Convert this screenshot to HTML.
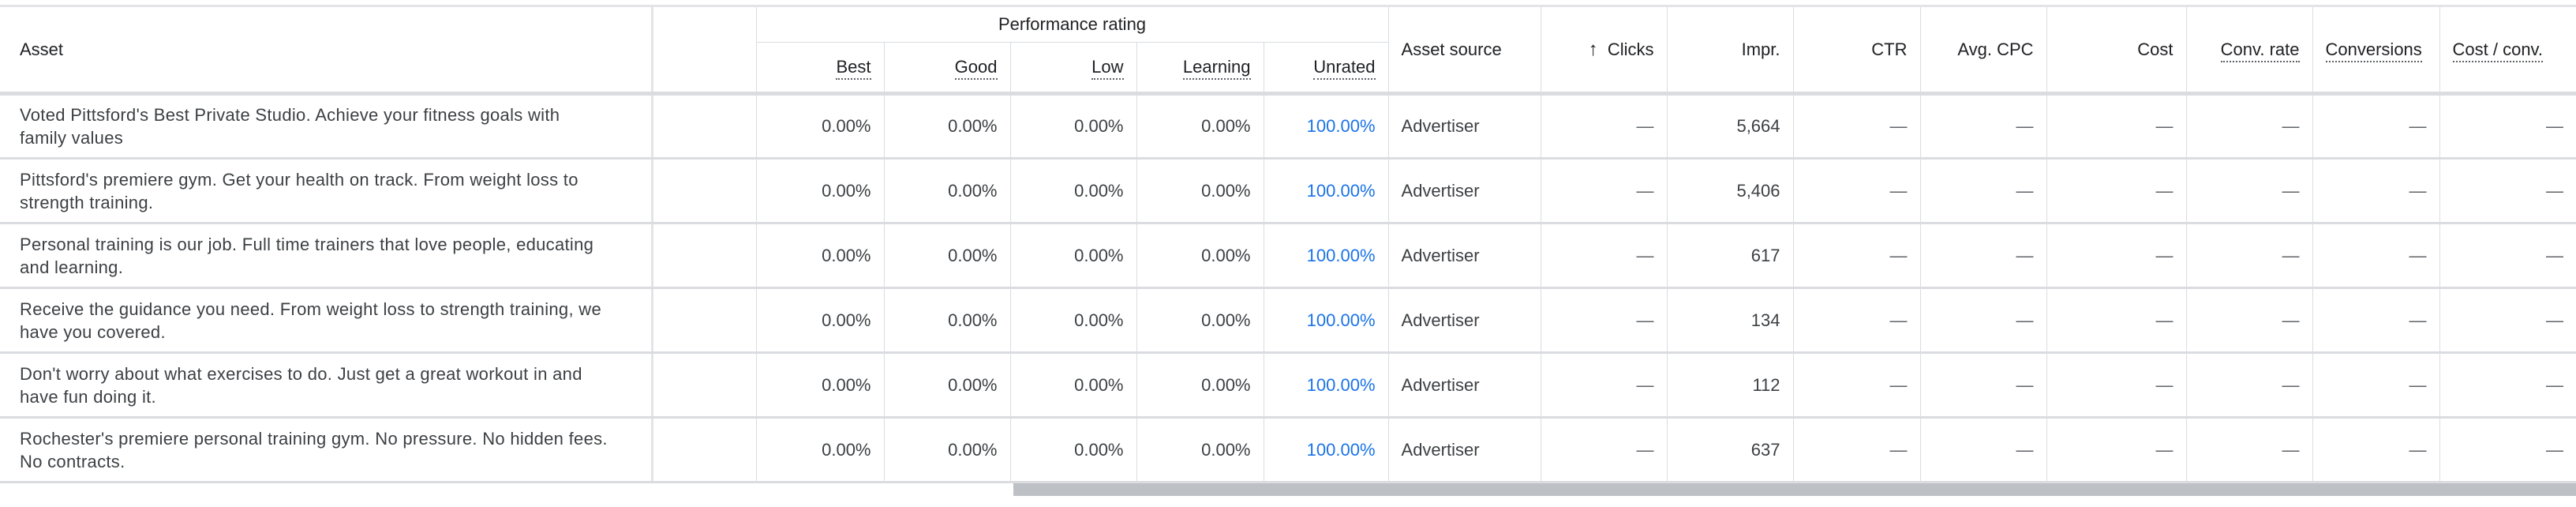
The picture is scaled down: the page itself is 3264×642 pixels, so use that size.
<!DOCTYPE html>
<html><head><meta charset="utf-8">
<style>
html,body{margin:0;padding:0;background:#fff;}
body{width:3264px;height:642px;overflow:hidden;position:relative;font-family:"Liberation Sans",Arial,sans-serif;color:#3c4043;}
table{position:absolute;left:0;top:6px;border-collapse:collapse;table-layout:fixed;width:3264px;border-top:3px solid #e3e4e7;}
td,th{padding:0 16px;font-size:22px;font-weight:normal;white-space:nowrap;overflow:hidden;border-left:1px solid #dadce0;box-sizing:border-box;}
th{color:#202124;text-align:right;}
td{text-align:right;}
tr.body td{height:82px;border-bottom:3px solid #dadce0;}
tr.body td.asset{text-align:left;line-height:29px;padding-left:25px;border-right:3px solid #e3e4e7;letter-spacing:0.3px;}
th.asset{text-align:left;padding-left:25px;border-left:none;border-right:3px solid #e3e4e7;}
tr.body td:first-child{border-left:none;}
thead tr:last-child th{border-bottom:5px solid #dadce0;}
th.asset,th.tall{border-bottom:5px solid #dadce0;}
.dot{border-bottom:2px dotted #5f6368;padding-bottom:2px;}
.blue{color:#1a73e8;}
.dash{color:#5f6368;}
.perf{text-align:center;border-bottom:1px solid #dadce0;height:46px;}
.left{text-align:left;}
#scroll{position:absolute;left:1284px;top:612px;width:1980px;height:16px;background:#bdc1c6;}
</style></head><body>
<table>
<colgroup>
<col style="width:826px"><col style="width:132px"><col style="width:162px"><col style="width:160px"><col style="width:160px"><col style="width:161px"><col style="width:158px"><col style="width:193px"><col style="width:160px"><col style="width:160px"><col style="width:161px"><col style="width:160px"><col style="width:177px"><col style="width:160px"><col style="width:161px"><col style="width:173px">
</colgroup>
<thead>
<tr>
<th class="asset" rowspan="2">Asset</th>
<th class="tall" rowspan="2"></th>
<th class="perf" colspan="5">Performance rating</th>
<th class="tall left" rowspan="2">Asset source</th>
<th class="tall" rowspan="2"><span style="font-size:24px">↑</span>&nbsp; Clicks</th>
<th class="tall" rowspan="2">Impr.</th>
<th class="tall" rowspan="2">CTR</th>
<th class="tall" rowspan="2">Avg. CPC</th>
<th class="tall" rowspan="2">Cost</th>
<th class="tall" rowspan="2"><span class="dot">Conv. rate</span></th>
<th class="tall left" rowspan="2" style="padding-right:0"><span class="dot">Conversions</span></th>
<th class="tall left" rowspan="2"><span class="dot">Cost / conv.</span></th>
</tr>
<tr style="height:65px">
<th><span class="dot">Best</span></th>
<th><span class="dot">Good</span></th>
<th><span class="dot">Low</span></th>
<th><span class="dot">Learning</span></th>
<th><span class="dot">Unrated</span></th>
</tr>
</thead>
<tbody id="tb"></tbody>
</table>
<div id="scroll"></div>
<script>
const assets=[
["Voted Pittsford's Best Private Studio. Achieve your fitness goals with","family values"],
["Pittsford's premiere gym. Get your health on track. From weight loss to","strength training."],
["Personal training is our job. Full time trainers that love people, educating","and learning."],
["Receive the guidance you need. From weight loss to strength training, we","have you covered."],
["Don't worry about what exercises to do. Just get a great workout in and","have fun doing it."],
["Rochester's premiere personal training gym. No pressure. No hidden fees.","No contracts."]];
const impr=["5,664","5,406","617","134","112","637"];
const tb=document.getElementById('tb');
assets.forEach((a,i)=>{
  const tr=document.createElement('tr');
  tr.className='body';
  
  
  let h='<td class="asset">'+a[0]+'<br>'+a[1]+'</td><td></td>';
  for(let k=0;k<4;k++) h+='<td>0.00%</td>';
  h+='<td class="blue">100.00%</td><td class="left">Advertiser</td><td class="dash">—</td><td>'+impr[i]+'</td>';
  for(let k=0;k<6;k++) h+='<td class="dash">—</td>';
  tr.innerHTML=h;
  tb.appendChild(tr);
});
</script>
</body></html>
